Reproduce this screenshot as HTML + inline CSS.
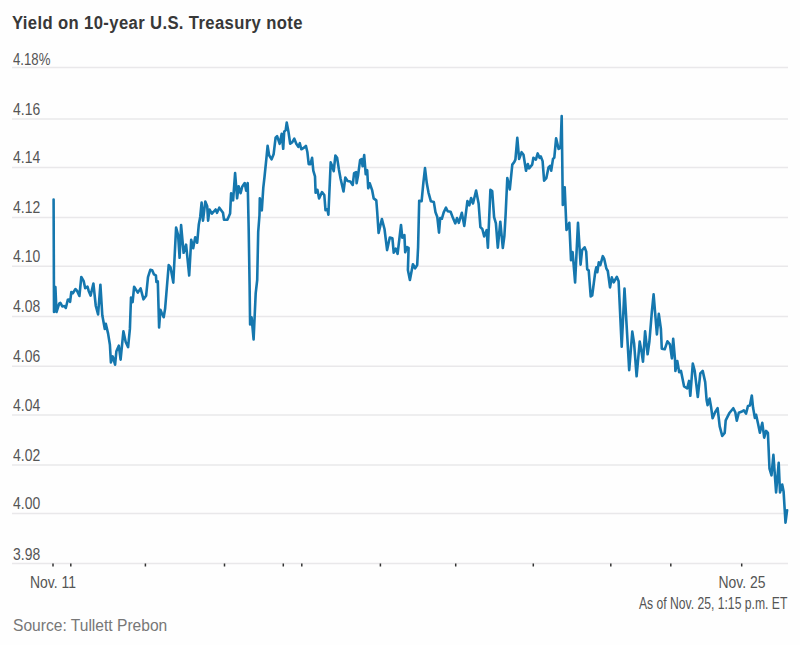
<!DOCTYPE html>
<html><head><meta charset="utf-8"><style>
html,body{margin:0;padding:0;background:#fefefe;}
body{width:800px;height:645px;position:relative;overflow:hidden;font-family:"Liberation Sans",sans-serif;}
svg{position:absolute;left:0;top:0;}
</style></head><body>
<svg width="800" height="645" viewBox="0 0 800 645">
<line x1="12" x2="788" y1="67.40" y2="67.40" stroke="#e9e8ea" stroke-width="1.5"/>
<line x1="12" x2="788" y1="118.90" y2="118.90" stroke="#e9e8ea" stroke-width="1.5"/>
<line x1="12" x2="788" y1="167.45" y2="167.45" stroke="#e9e8ea" stroke-width="1.5"/>
<line x1="12" x2="788" y1="217.50" y2="217.50" stroke="#e9e8ea" stroke-width="1.5"/>
<line x1="12" x2="788" y1="266.20" y2="266.20" stroke="#e9e8ea" stroke-width="1.5"/>
<line x1="12" x2="788" y1="316.40" y2="316.40" stroke="#e9e8ea" stroke-width="1.5"/>
<line x1="12" x2="788" y1="366.20" y2="366.20" stroke="#e9e8ea" stroke-width="1.5"/>
<line x1="12" x2="788" y1="414.90" y2="414.90" stroke="#e9e8ea" stroke-width="1.5"/>
<line x1="12" x2="788" y1="465.05" y2="465.05" stroke="#e9e8ea" stroke-width="1.5"/>
<line x1="12" x2="788" y1="513.60" y2="513.60" stroke="#e9e8ea" stroke-width="1.5"/>
<line x1="12" x2="788" y1="563.50" y2="563.50" stroke="#e9e8ea" stroke-width="1.5"/>
<line x1="53" x2="53" y1="563.50" y2="566.50" stroke="#333" stroke-width="1.5"/>
<line x1="70.8" x2="70.8" y1="563.50" y2="566.50" stroke="#333" stroke-width="1.5"/>
<line x1="145.4" x2="145.4" y1="563.50" y2="566.50" stroke="#333" stroke-width="1.5"/>
<line x1="224.5" x2="224.5" y1="563.50" y2="566.50" stroke="#333" stroke-width="1.5"/>
<line x1="283.3" x2="283.3" y1="563.50" y2="566.50" stroke="#333" stroke-width="1.5"/>
<line x1="301.8" x2="301.8" y1="563.50" y2="566.50" stroke="#333" stroke-width="1.5"/>
<line x1="380.4" x2="380.4" y1="563.50" y2="566.50" stroke="#333" stroke-width="1.5"/>
<line x1="455.7" x2="455.7" y1="563.50" y2="566.50" stroke="#333" stroke-width="1.5"/>
<line x1="533.3" x2="533.3" y1="563.50" y2="566.50" stroke="#333" stroke-width="1.5"/>
<line x1="610.8" x2="610.8" y1="563.50" y2="566.50" stroke="#333" stroke-width="1.5"/>
<line x1="670.8" x2="670.8" y1="563.50" y2="566.50" stroke="#333" stroke-width="1.5"/>
<line x1="741.7" x2="741.7" y1="563.50" y2="566.50" stroke="#333" stroke-width="1.5"/>
<polyline points="53.6,199.5 54.0,312.0 55.4,287.0 56.5,312.0 59.2,303.7 60.4,302.9 62.3,306.4 64.3,306.0 65.8,308.0 67.8,299.8 68.9,299.5 70.1,301.8 71.3,292.1 72.8,293.3 75.5,289.0 77.1,290.9 79.4,296.0 81.3,277.0 83.7,281.2 85.2,288.2 87.5,286.7 88.7,290.9 90.6,295.6 93.4,283.5 95.8,306.0 98.1,314.5 100.4,284.7 102.3,315.3 104.8,328.9 105.8,323.8 108.1,333.6 109.9,344.7 110.9,362.4 112.7,356.4 115.1,364.7 116.4,351.2 118.8,345.7 120.6,359.6 123.4,331.3 125.7,342.0 128.1,347.1 129.9,328.9 131.0,297.5 132.6,302.1 134.1,286.8 137.8,292.6 140.6,288.4 143.5,299.3 146.1,295.8 148.0,277.2 150.3,269.8 152.2,270.2 154.0,274.4 155.9,275.3 156.4,281.9 157.8,281.4 159.1,327.4 160.4,309.7 161.8,313.0 163.7,317.2 165.1,308.8 168.7,265.0 170.5,267.2 173.3,282.6 176.1,227.6 178.1,235.1 179.6,257.8 181.1,225.1 183.6,252.8 186.1,244.7 189.2,275.5 191.2,239.7 193.2,248.2 195.2,237.2 197.2,242.7 198.8,224.4 200.2,217.0 201.6,202.6 203.0,220.7 205.3,201.6 207.2,206.3 208.1,220.7 209.5,209.5 211.9,213.7 215.6,209.5 217.0,212.8 219.3,207.7 223.0,212.8 224.0,219.8 227.4,219.8 230.1,213.4 231.1,193.2 233.1,200.3 235.1,173.1 237.1,198.3 238.6,186.2 240.6,193.2 242.2,186.7 244.7,183.1 246.2,190.7 247.7,183.1 248.7,230.0 249.6,285.0 250.1,324.4 251.6,317.3 253.6,339.5 255.7,293.1 257.2,280.0 258.2,232.0 259.5,215.0 259.8,198.3 261.8,210.4 263.3,187.7 264.5,177.0 266.6,156.4 267.6,145.8 269.1,155.3 271.6,159.4 273.6,154.3 275.6,137.7 277.1,136.2 279.7,143.8 281.7,133.7 283.2,148.8 284.2,131.7 285.7,130.1 286.7,122.6 288.5,132.0 290.2,143.8 292.3,142.2 294.3,138.7 296.3,143.8 298.3,146.8 299.8,143.2 301.3,149.3 304.4,147.3 305.9,145.8 307.4,152.3 308.7,164.2 310.4,164.2 312.1,157.8 313.3,170.6 315.0,176.4 315.6,192.7 317.4,189.8 319.1,198.5 322.0,192.1 324.3,195.0 325.5,210.1 327.3,209.0 328.4,214.8 330.7,162.4 331.9,165.3 333.7,171.2 335.4,155.5 337.1,157.8 338.9,169.4 340.6,178.7 343.5,191.5 345.3,177.6 347.6,181.0 350.3,181.5 352.7,185.0 354.1,173.2 356.1,172.2 356.6,183.3 358.1,175.2 360.1,160.1 361.6,159.1 362.6,166.2 364.2,155.1 365.7,174.2 367.2,170.2 368.2,188.3 369.7,183.3 372.2,190.4 373.7,198.4 376.3,200.4 377.2,211.9 378.6,232.9 381.9,219.1 384.5,229.0 387.1,250.1 389.8,237.5 392.4,238.2 393.7,252.7 395.7,248.7 397.6,253.9 401.0,225.0 402.3,237.7 404.4,235.1 405.2,252.2 407.0,247.1 408.6,247.9 407.9,270.0 409.9,280.0 412.9,264.2 415.1,268.4 417.2,265.0 418.1,247.1 419.2,200.7 421.6,201.3 423.3,183.3 425.0,168.1 426.8,183.3 428.5,192.6 430.9,201.3 433.8,201.9 435.5,212.3 437.3,217.0 439.0,232.7 440.2,218.1 441.9,218.7 443.7,212.3 446.0,207.7 447.7,211.2 450.6,211.7 453.0,218.1 455.3,223.4 457.0,218.1 458.8,222.8 461.8,212.8 464.3,225.9 467.4,201.1 469.3,205.4 471.1,198.0 473.0,203.5 476.1,190.5 478.6,203.5 480.4,227.1 482.3,229.0 484.2,236.4 486.6,230.2 487.9,247.6 490.4,189.9 492.2,191.1 494.1,217.2 495.9,223.4 497.8,247.6 500.3,221.7 502.8,248.0 504.4,235.8 505.6,214.9 507.3,178.0 509.8,189.4 512.3,164.6 514.2,162.1 515.4,159.6 517.3,137.9 519.1,159.0 521.6,152.2 523.5,154.7 526.0,170.8 527.8,164.0 529.1,168.3 532.2,164.6 533.4,157.8 535.9,159.6 537.7,153.4 539.6,157.8 540.8,156.5 542.6,161.1 544.1,180.6 546.3,178.2 548.5,167.4 550.3,165.8 551.2,170.7 553.0,158.9 554.3,157.6 556.1,138.4 558.6,148.9 560.5,147.7 561.7,116.1 562.8,205.0 564.7,187.4 566.5,230.0 569.3,222.8 571.0,260.2 572.6,252.1 575.1,282.4 578.0,222.8 580.6,264.7 582.1,250.1 584.6,247.3 586.2,251.6 587.2,269.3 588.7,270.3 590.7,296.5 592.2,295.5 595.2,272.3 596.3,267.3 597.3,272.3 598.8,262.2 600.3,265.2 602.8,256.2 604.3,259.2 606.3,268.3 607.8,271.0 610.0,287.4 611.8,277.4 613.7,282.4 616.8,276.8 618.6,281.2 621.7,346.7 624.5,288.6 629.2,370.1 632.3,331.6 634.1,343.4 636.6,376.3 639.7,341.6 641.6,352.1 643.0,361.7 645.1,331.3 647.6,354.3 649.4,341.5 651.8,312.3 653.6,294.3 656.9,334.4 658.8,313.9 660.9,329.0 661.8,348.7 664.7,349.3 667.4,341.3 669.9,344.4 671.9,358.4 673.2,338.9 675.0,359.6 675.4,370.9 677.3,361.0 679.2,372.2 681.0,370.9 684.1,386.5 687.2,388.3 689.1,380.9 690.3,395.8 692.8,363.5 694.7,370.9 697.8,397.0 700.3,373.4 702.7,370.9 705.2,382.1 706.6,400.0 707.6,405.2 709.6,398.6 711.1,407.2 712.6,418.3 715.1,412.3 717.6,408.2 719.7,426.4 722.2,435.9 724.7,432.9 725.7,420.3 729.2,413.3 733.3,408.2 735.3,412.3 736.8,420.8 738.8,412.8 741.3,411.8 743.8,410.3 746.0,413.6 748.0,405.9 749.9,405.5 751.8,395.5 753.0,407.3 754.9,417.9 756.1,414.8 758.0,423.5 759.9,432.8 762.3,422.8 764.2,437.7 766.1,430.9 767.9,432.8 769.5,468.7 771.5,475.3 773.4,454.9 776.1,492.4 778.7,462.8 780.0,492.4 782.2,484.6 783.6,491.6 785.5,522.6 787.1,510.2" fill="none" stroke="#1577ae" stroke-width="2.6" stroke-linejoin="round" stroke-linecap="round"/>
</svg>
<div style="position:absolute;left:12.3px;top:14.36px;font-size:18px;line-height:18px;font-weight:bold;color:#383838;letter-spacing:0.4px;white-space:nowrap;transform:scaleX(0.925);transform-origin:left center">Yield on 10-year U.S. Treasury note</div>
<div style="position:absolute;left:12.5px;top:50.68px;font-size:16.5px;line-height:16.5px;font-weight:normal;color:#555;letter-spacing:0px;white-space:nowrap;transform:scaleX(0.8);transform-origin:left center">4.18%</div>
<div style="position:absolute;left:12.5px;top:100.68px;font-size:16.5px;line-height:16.5px;font-weight:normal;color:#555;letter-spacing:0px;white-space:nowrap;transform:scaleX(0.845);transform-origin:left center">4.16</div>
<div style="position:absolute;left:12.5px;top:149.18px;font-size:16.5px;line-height:16.5px;font-weight:normal;color:#555;letter-spacing:0px;white-space:nowrap;transform:scaleX(0.845);transform-origin:left center">4.14</div>
<div style="position:absolute;left:12.5px;top:199.18px;font-size:16.5px;line-height:16.5px;font-weight:normal;color:#555;letter-spacing:0px;white-space:nowrap;transform:scaleX(0.845);transform-origin:left center">4.12</div>
<div style="position:absolute;left:12.5px;top:247.68px;font-size:16.5px;line-height:16.5px;font-weight:normal;color:#555;letter-spacing:0px;white-space:nowrap;transform:scaleX(0.845);transform-origin:left center">4.10</div>
<div style="position:absolute;left:12.5px;top:297.53px;font-size:16.5px;line-height:16.5px;font-weight:normal;color:#555;letter-spacing:0px;white-space:nowrap;transform:scaleX(0.845);transform-origin:left center">4.08</div>
<div style="position:absolute;left:12.5px;top:347.53px;font-size:16.5px;line-height:16.5px;font-weight:normal;color:#555;letter-spacing:0px;white-space:nowrap;transform:scaleX(0.845);transform-origin:left center">4.06</div>
<div style="position:absolute;left:12.5px;top:396.78px;font-size:16.5px;line-height:16.5px;font-weight:normal;color:#555;letter-spacing:0px;white-space:nowrap;transform:scaleX(0.845);transform-origin:left center">4.04</div>
<div style="position:absolute;left:12.5px;top:446.78px;font-size:16.5px;line-height:16.5px;font-weight:normal;color:#555;letter-spacing:0px;white-space:nowrap;transform:scaleX(0.845);transform-origin:left center">4.02</div>
<div style="position:absolute;left:12.5px;top:495.43px;font-size:16.5px;line-height:16.5px;font-weight:normal;color:#555;letter-spacing:0px;white-space:nowrap;transform:scaleX(0.845);transform-origin:left center">4.00</div>
<div style="position:absolute;left:12.5px;top:545.68px;font-size:16.5px;line-height:16.5px;font-weight:normal;color:#555;letter-spacing:0px;white-space:nowrap;transform:scaleX(0.845);transform-origin:left center">3.98</div>
<div style="position:absolute;left:-146.8px;width:400px;text-align:center;top:574.86px;font-size:16px;line-height:16px;font-weight:normal;color:#555;letter-spacing:0px;white-space:nowrap;transform:scaleX(0.87);transform-origin:center center">Nov. 11</div>
<div style="position:absolute;left:542.1px;width:400px;text-align:center;top:574.76px;font-size:16px;line-height:16px;font-weight:normal;color:#555;letter-spacing:0px;white-space:nowrap;transform:scaleX(0.87);transform-origin:center center">Nov. 25</div>
<div style="position:absolute;right:12.799999999999955px;top:595.56px;font-size:16px;line-height:16px;font-weight:normal;color:#555;letter-spacing:0px;white-space:nowrap;transform:scaleX(0.76);transform-origin:right center">As of Nov. 25, 1:15 p.m. ET</div>
<div style="position:absolute;left:12.7px;top:617.43px;font-size:16.5px;line-height:16.5px;font-weight:normal;color:#777;letter-spacing:0px;white-space:nowrap;transform:scaleX(0.945);transform-origin:left center">Source: Tullett Prebon</div>
</body></html>
